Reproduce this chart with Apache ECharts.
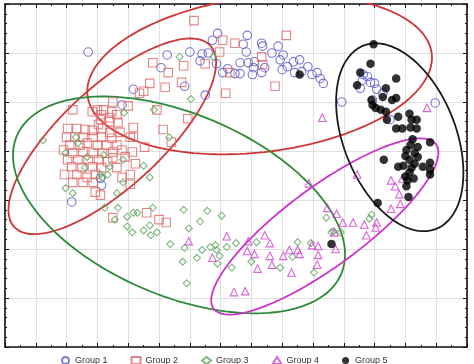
<!DOCTYPE html>
<html><head><meta charset="utf-8">
<script src="https://cdn.jsdelivr.net/npm/echarts@6/dist/echarts.min.js"></script>
<style>html,body{margin:0;padding:0;background:#fff}#c{width:474px;height:364px}</style>
</head><body><div id="c"></div>
<script>
const groupNames = ['Group 1', 'Group 2', 'Group 3', 'Group 4', 'Group 5'];

const group1 = [[81,301],[207,320],[202,313],[236,318],[232,309],[235,301],[158,298],[180,301],[192,299],[198,300],[190,292],[206,289],[152,285],[229,290],[237,290],[242,285],[212,280],[217,284],[224,279],[229,279],[241,278],[125,263],[175,266],[195,257],[250,310],[251,307],[266,307],[260,300],[271,298],[268,293],[243,291],[250,280],[253,285],[270,283],[275,286],[281,291],[287,293],[295,286],[282,280],[289,281],[299,278],[304,280],[307,274],[310,269],[328,250],[349,278],[353,276],[348,272],[356,270],[360,269],[346,264],[362,263],[368,259],[358,252],[419,249],[375,232],[114,247],[93,172],[94,165],[65,148]];

const group2 = [[184,333],[212,313],[224,310],[209,301],[219,280],[144,290],[159,280],[174,287],[172,270],[156,265],[141,269],[135,261],[131,259],[215,259],[195,289],[274,318],[250,296],[251,288],[263,266],
[105,250],[120,246],[90,242],[94,237],[102,234],[125,224],[154,222],[162,209],[136,204],[125,214],[127,187],[178,233],[148,242],
[66,242],[85,240],[96,242],[104,240],[109,237],[93,232],[102,230],[110,229],[91,227],[61,223],[70,223],[78,222],[85,221],[95,223],[102,219],[112,219],[60,214],[68,214],[76,214],[86,214],[94,214],[104,213],[122,214],[63,206],[73,206],[80,208],[90,206],[99,206],[109,206],[57,201],[66,198],[76,199],[86,198],[95,198],[105,199],[114,201],[124,199],[61,191],[71,191],[81,191],[91,191],[100,189],[105,193],[117,194],[65,184],[75,183],[85,184],[94,183],[109,183],[58,176],[70,176],[80,173],[88,176],[114,173],[122,176],[66,168],[76,168],[86,168],[122,166],[88,158],[93,155],[138,137],[105,132],[150,130],[157,127]];

const group3 = [[170,296],[203,296],[181,253],[145,242],[116,239],[160,214],[135,185],[37,211],[59,198],[69,214],[71,208],[80,194],[102,184],[96,196],[93,176],[100,176],[115,191],[141,173],[115,168],[59,162],[66,157],[109,157],[78,183],[95,173],[97,142],[110,142],[107,130],[119,133],[125,137],[129,137],[144,142],[119,123],[124,117],[135,119],[141,124],[148,117],[142,114],[174,140],[197,139],[211,134],[190,128],[179,121],[161,105],[175,101],[192,99],[200,102],[205,104],[206,99],[209,93],[216,102],[187,91],[173,87],[207,85],[221,81],[177,65],[225,106],[245,107],[240,87],[280,92],[285,107],[268,81],[298,106],[301,76],[313,132],[318,117],[320,118],[327,117],[357,135],[355,131]];

const group4 = [[179,108],[202,91],[216,113],[223,56],[234,57],[237,108],[236,98],[243,95],[253,114],[258,106],[258,93],[260,84],[246,80],[271,93],[277,99],[285,99],[287,95],[279,76],[299,104],[305,103],[305,94],[304,84],[314,142],[323,136],[329,127],[339,127],[350,125],[352,114],[321,117],[322,100],[376,141],[385,146],[384,156],[376,170],[380,164],[387,172],[343,176],[362,127],[361,122],[296,167],[411,244],[309,234]];

const group5 = [[359,309],[356,289],[346,280],[381,274],[343,267],[371,264],[368,255],[377,252],[357,252],[358,247],[361,244],[366,242],[371,240],[372,232],[383,235],[394,238],[396,232],[401,232],[381,223],[387,223],[395,224],[401,223],[397,212],[414,209],[395,206],[402,204],[391,201],[399,198],[390,195],[402,194],[369,191],[394,191],[399,187],[383,184],[388,185],[396,183],[407,184],[414,188],[414,181],[414,176],[394,178],[390,174],[392,170],[398,172],[391,164],[393,153],[363,147],[287,278],[318,105],[381,254]];

// confidence ellipses: [centerX, centerY, semiMajor, semiMinor, angleDeg]
const ellipseGroup1 = [248, 278, 169, 79, 7.5];
const ellipseGroup2 = [104.5, 215, 133, 50, 44.5];
const ellipseGroup3 = [169.5, 145, 173, 92, -24.8];
const ellipseGroup4 = [311.5, 123, 137, 39.5, 38];
const ellipseGroup5 = [384.5, 214, 100, 55, -70];

const xTicks = {min: 0, max: 450, interval: 30};
const yTicks = {min: 0, max: 350, interval: 50};

function ellipsePts(p) {
  const [cx, cy, a, b, deg] = p;
  const th = deg * Math.PI / 180, out = [];
  for (let i = 0; i <= 180; i++) {
    const t = i / 180 * 2 * Math.PI;
    const x = a * Math.cos(t), y = b * Math.sin(t);
    out.push([cx + x * Math.cos(th) - y * Math.sin(th), cy + x * Math.sin(th) + y * Math.cos(th)]);
  }
  return out;
}

const chart = echarts.init(document.getElementById('c'), null, {renderer: 'canvas'});
const hollow = (c) => ({color: 'rgba(255,255,255,0)', borderColor: c, borderWidth: 1.1});
const ell = (p, c) => ({type: 'line', data: ellipsePts(p), showSymbol: false, symbol: 'none', silent: true,
  lineStyle: {color: c, width: 1.8}, z: 3, animation: false, clip: true});

const axisCommon = {
  axisLine: {show: true, onZero: false, lineStyle: {color: '#111', width: 1.6}},
  axisTick: {show: true, inside: true, length: 4, lineStyle: {color: '#111'}},
  axisLabel: {show: false}
};

chart.setOption({
  animation: false,
  grid: {left: 5, right: 7, top: 4, bottom: 17, containLabel: false},
  legend: {
    top: 351, left: 56, itemGap: 23, itemWidth: 9, itemHeight: 7,
    textStyle: {fontSize: 9, color: '#333', fontFamily: 'Liberation Sans, Arial, sans-serif'},
    data: groupNames
  },
  xAxis: [
    Object.assign({type: 'value', min: xTicks.min, max: xTicks.max, interval: xTicks.interval, position: 'bottom',
      splitLine: {show: true, lineStyle: {color: '#e0e0e0', width: 1}},
      minorTick: {show: true, splitNumber: 2, length: 2, lineStyle: {color: '#111'}}}, axisCommon),
    Object.assign({type: 'value', min: xTicks.min, max: xTicks.max, interval: xTicks.interval, position: 'top',
      splitLine: {show: false},
      minorTick: {show: true, splitNumber: 2, length: 2, lineStyle: {color: '#111'}}}, axisCommon)
  ],
  yAxis: [
    Object.assign({type: 'value', min: yTicks.min, max: yTicks.max, interval: yTicks.interval, position: 'left',
      splitLine: {show: true, lineStyle: {color: '#e0e0e0', width: 1}},
      minorTick: {show: true, splitNumber: 5, length: 2, lineStyle: {color: '#111'}}}, axisCommon),
    Object.assign({type: 'value', min: yTicks.min, max: yTicks.max, interval: yTicks.interval, position: 'right',
      splitLine: {show: false},
      minorTick: {show: true, splitNumber: 5, length: 2, lineStyle: {color: '#111'}}}, axisCommon)
  ],
  series: [
    {name: groupNames[0], type: 'scatter', data: group1, symbol: 'circle', symbolSize: 8.5, itemStyle: hollow('#5555cc'), z: 4},
    {name: groupNames[1], type: 'scatter', data: group2, symbol: 'rect', symbolSize: 8.5, itemStyle: hollow('#e06868'), z: 4},
    {name: groupNames[2], type: 'scatter', data: group3, symbol: 'diamond', symbolSize: 7, itemStyle: hollow('#5fa55f'), z: 4},
    {name: groupNames[3], type: 'scatter', data: group4, symbol: 'triangle', symbolSize: 7.5, itemStyle: hollow('#d040d0'), z: 4},
    {name: groupNames[4], type: 'scatter', data: group5, symbol: 'circle', symbolSize: 8.5, itemStyle: {color: '#000'}, z: 5},
    ell(ellipseGroup1, '#d03535'),
    ell(ellipseGroup2, '#d03535'),
    ell(ellipseGroup3, '#2f8a3a'),
    ell(ellipseGroup4, '#cc33cc'),
    ell(ellipseGroup5, '#1a1a1a')
  ]
});
</script></body></html>
